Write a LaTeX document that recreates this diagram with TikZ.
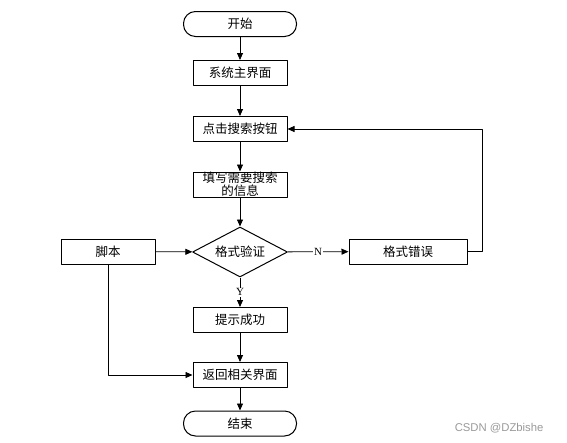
\documentclass[tikz,border=0pt]{standalone}
\usepackage{fontspec}
\setmainfont{Liberation Serif}
\newfontfamily\cjk{Noto Sans CJK SC}
\newfontfamily\marksans{Liberation Sans}
\usetikzlibrary{arrows.meta,shapes.geometric}
\begin{document}
\begin{tikzpicture}[x=1pt, y=-1pt, line join=bevel]

                \pgfmathsetmacro{\w}{94}
                \pgfmathsetmacro{\h}{25}

                \tikzset{
                  flow_box/.style  = {draw=black, line width=1pt, minimum width=\w pt, minimum height=\h pt,
                                      inner sep=0pt, font=\cjk\fontsize{12.5}{13}\selectfont},
                  term_box/.style  = {flow_box, rounded corners=12pt, minimum width=113pt},
                  check_box/.style = {flow_box, diamond, aspect=1.9, minimum width=95pt, minimum height=50pt},
                  flow_line/.style = {line width=0.8pt, -{Triangle[length=7pt,width=6pt]}},
                  yn_label/.style  = {fill=white, inner sep=1pt, font=\fontsize{11}{11}\selectfont}
                }

                \useasboundingbox (0,0) rectangle (567,442);

                % main column
                \node[term_box]  (start)  at (240,24)    {开始};
                \node[flow_box]  (main)   at (240,73)    {系统主界面};
                \node[flow_box]  (click)  at (240,129)   {点击搜索按钮};
                \node[flow_box, align=center] (fill) at (240,184.5) {填写需要搜索\\的信息};
                \node[check_box] (check)  at (240,252)   {格式验证};
                \node[flow_box]  (ok)     at (240,320)   {提示成功};
                \node[flow_box]  (back)   at (240,375)   {返回相关界面};
                \node[term_box]  (end)    at (240,423.5) {结束};

                % side boxes
                \node[flow_box]  (script) at (108,251.5) {脚本};
                \node[flow_box, minimum width=118pt] (error) at (408,251.5) {格式错误};

                \draw[flow_line] (start) -- (main);
                \draw[flow_line] (main)  -- (click);
                \draw[flow_line] (click) -- (fill);
                \draw[flow_line] (fill)  -- (check);
                \draw[flow_line] (check) -- node[yn_label] {N} (error);
                \draw[flow_line] (check) -- node[yn_label] {Y} (ok);
                \draw[flow_line] (ok)    -- (back);
                \draw[flow_line] (back)  -- (end);
                \draw[flow_line] (error.east) -- ++(15,0) |- (click.east);
                \draw[flow_line] (script) -- (check);
                \draw[flow_line] (script) |- (back);

                \node[anchor=east, text=black!40, font=\marksans\fontsize{11.3}{11.3}\selectfont] (mark) at (547,428) {CSDN @DZbishe};
            \end{tikzpicture}
\end{document}
